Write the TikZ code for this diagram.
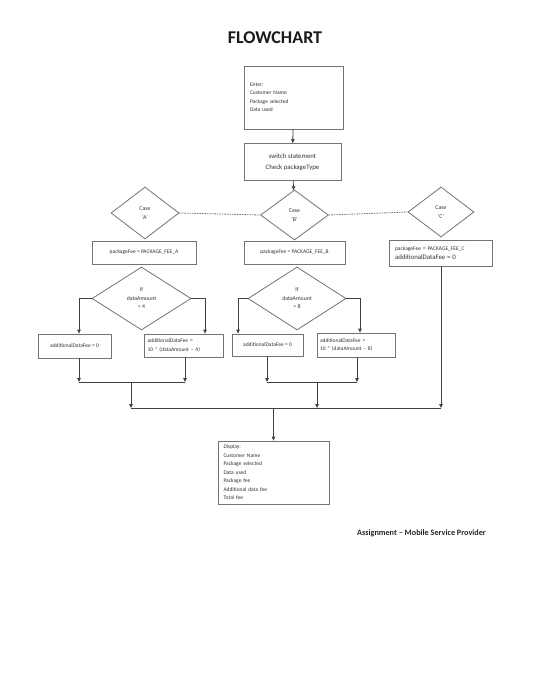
\documentclass[tikz,border=0pt]{standalone}
\usepackage{fontspec}
\setmainfont{Carlito}
\usepackage{tikz}
\usetikzlibrary{calc}
\usetikzlibrary{arrows.meta}
\usetikzlibrary{shapes.geometric}

\tikzset{
    box/.style={draw=black!55, thick, inner sep=0pt, text=black!80, font=\fontsize{5.5}{8.5}\selectfont},
    choice/.style={diamond, draw=black!55, thick, inner sep=0pt, text=black!80, align=center, font=\fontsize{5.8}{8.5}\selectfont},
    flow/.style={draw=black!75, thick, -{Triangle[length=4pt,width=3.5pt]}},
    joint/.style={draw=black!75, thick},
    caseline/.style={draw=black!55, thick, dash pattern=on 1.5pt off 1pt}
}

\begin{document}
\begin{tikzpicture}[x=1pt, y=-1pt]
    % Page frame
    \useasboundingbox[fill=white] (0,0) rectangle (550,700);

    % Title and footer
    \node[font=\bfseries\fontsize{18}{20}\selectfont, text=black!90] (title) at (275,38) {FLOWCHART};
    \node[font=\bfseries\fontsize{8.2}{10}\selectfont, text=black!85] (footer) at (421.5,533) {Assignment – Mobile Service Provider};

    % Input and switch
    \node[box, minimum width=99, minimum height=63, text width=87, align=left] (enter) at (293.5,97.5)
        {Enter:\\Customer Name\\Package selected\\Data used\\[3pt]};
    \node[box, minimum width=97, minimum height=37, align=center, font=\fontsize{6.8}{10.5}\selectfont] (switch) at (292.5,162)
        {switch statement\\Check packageType};

    % The three cases
    \node[choice, minimum width=68, minimum height=52] (caseA) at (145,213) {Case\\‘A’};
    \node[choice, minimum width=68, minimum height=50] (caseB) at (294.5,215) {Case\\‘B’};
    \node[choice, minimum width=66, minimum height=50] (caseC) at (441,212) {Case\\‘C’};

    % Package fees
    \node[box, minimum width=104, minimum height=23] (feeA) at (144,252.5) {packageFee = PACKAGE\_FEE\_A};
    \node[box, minimum width=101, minimum height=23] (feeB) at (294.5,252.5) {packageFee = PACKAGE\_FEE\_B};
    \node[box, minimum width=103, minimum height=26, text width=91, align=left, font=\fontsize{5.5}{9}\selectfont] (feeC) at (440.5,253)
        {packageFee = PACKAGE\_FEE\_C\\{\fontsize{6.8}{8}\selectfont additionalDataFee = 0}};

    % Data checks
    \node[choice, minimum width=99, minimum height=63] (checkA) at (141.5,298.5) {If\\dataAmount\\> 4};
    \node[choice, minimum width=98, minimum height=63] (checkB) at (297,298.5) {If\\dataAmount\\> 8};

    % Additional data fees
    \node[box, minimum width=73, minimum height=24] (zeroA) at (74.5,346) {additionalDataFee = 0};
    \node[box, minimum width=79, minimum height=23, text width=72, align=left] (extraA) at (183.5,345.5)
        {additionalDataFee =\\10 * (dataAmount – 4)};
    \node[box, minimum width=71, minimum height=22] (zeroB) at (267.5,345) {additionalDataFee = 0};
    \node[box, minimum width=78, minimum height=24, text width=72, align=left] (extraB) at (356,345)
        {additionalDataFee =\\10 * (dataAmount – 8)};

    % Output
    \node[box, minimum width=111, minimum height=63, text width=100, align=left] (display) at (273.5,472.5)
        {Display:\\Customer Name\\Package selected\\Data used\\Package fee\\Additional data fee\\Total fee};

    % Top connectors
    \draw[flow] (enter) -- (switch);
    \draw[flow] (switch) -- (caseB);
    \draw[caseline] (caseA.east) -- (caseB.west);
    \draw[caseline] (caseB.east) -- (caseC.west);

    % Branches of the data checks
    \draw[flow] (checkA.west) -| ($(zeroA.north)+(4.5,0)$);
    \draw[flow] (checkA.east) -| ($(extraA.north)+(21.5,0)$);
    \draw[flow] (checkB.west) -| ($(zeroB.north)+(-29.5,0)$);
    \draw[flow] (checkB.east) -| ($(extraB.north)+(4,0)$);

    % Joining the branches
    \coordinate (a0) at (79,382);
    \coordinate (a1) at (185,382);
    \coordinate (b0) at (267,382);
    \coordinate (b1) at (357,382);
    \coordinate (ja) at (131,408);
    \coordinate (jb) at (317,408);
    \coordinate (jc) at (441,408);

    \draw[flow] (zeroA.south -| a0) -- (a0);
    \draw[flow] (extraA.south -| a1) -- (a1);
    \draw[joint] (a0) -- (a1);
    \draw[flow] (ja |- a0) -- (ja);

    \draw[flow] (zeroB.south -| b0) -- (b0);
    \draw[flow] (extraB.south -| b1) -- (b1);
    \draw[joint] (b0) -- (b1);
    \draw[flow] (jb |- b0) -- (jb);

    \draw[flow] (feeC.south -| jc) -- (jc);
    \draw[joint] (ja) -- (jc);
    \draw[flow] (display.north |- ja) -- (display.north);
\end{tikzpicture}
\end{document}
